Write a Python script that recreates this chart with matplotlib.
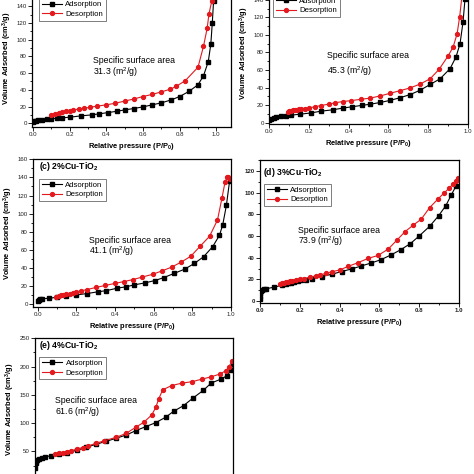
import matplotlib
matplotlib.use("Agg")
import matplotlib.pyplot as plt
from matplotlib.ticker import MultipleLocator, AutoMinorLocator

plt.rcParams['font.family'] = ['Liberation Sans', 'DejaVu Sans']
plt.rcParams['mathtext.fontset'] = 'custom'
plt.rcParams['mathtext.rm'] = 'Liberation Sans'
plt.rcParams['mathtext.it'] = 'Liberation Sans:italic'
plt.rcParams['mathtext.bf'] = 'Liberation Sans:bold'

# (a) TiO2
a_ads_x = [0.002, 0.008, 0.015, 0.03, 0.05, 0.075, 0.1, 0.13, 0.16, 0.2, 0.26, 0.32, 0.36, 0.41, 0.46, 0.5,
           0.55, 0.6, 0.65, 0.7, 0.755, 0.8, 0.85, 0.9, 0.93, 0.956, 0.97, 0.978, 0.985, 0.99]
a_ads_y = [2, 2.5, 3, 3.5, 4, 4.8, 5.3, 6, 6.5, 7.2, 8.8, 10, 11.2, 12.8, 14.4, 16,
           17.6, 19.6, 22, 24.4, 28, 32, 38, 46, 56.8, 73.6, 94.8, 120, 146, 170]
a_des_x = [0.1, 0.12, 0.14, 0.16, 0.18, 0.2, 0.22, 0.25, 0.28, 0.31, 0.35, 0.4, 0.45, 0.5, 0.55, 0.6,
           0.65, 0.7, 0.75, 0.78, 0.83, 0.9, 0.93, 0.95, 0.96, 0.975, 0.985]
a_des_y = [10, 11.5, 12.5, 13.5, 14.5, 15, 16, 17, 18, 19, 20.5, 22, 24, 26.5, 29, 32,
           34.5, 37.5, 40.8, 44, 50.8, 67, 92, 113.6, 131, 146, 160]

# (b) 1%Cu-TiO2
b_ads_x = [0.002, 0.01, 0.023, 0.036, 0.06, 0.086, 0.11, 0.156, 0.21, 0.26, 0.32, 0.37, 0.415, 0.465,
           0.51, 0.56, 0.61, 0.66, 0.71, 0.76, 0.81, 0.86, 0.91, 0.94, 0.96, 0.975, 0.985, 0.995]
b_ads_y = [3, 3.8, 5, 6, 7, 7.3, 8.5, 9.6, 11, 13, 14.6, 16.5, 18, 19.6,
           21, 23, 25.4, 28.5, 32, 37, 43.5, 50, 61.5, 75, 90, 114.6, 141, 170]
b_des_x = [0.095, 0.1, 0.11, 0.12, 0.13, 0.14, 0.15, 0.16, 0.18, 0.2, 0.23, 0.26, 0.3, 0.33, 0.37,
           0.41, 0.46, 0.51, 0.56, 0.61, 0.66, 0.71, 0.76, 0.81, 0.855, 0.9, 0.925, 0.945, 0.958, 0.97]
b_des_y = [12.5, 13, 13.5, 14, 14.3, 14.7, 15, 15.4, 16, 16.8, 18, 19.5, 21, 22.5, 24,
           25, 26.5, 28, 30.5, 33.5, 36.5, 39.6, 44, 50, 60.8, 76, 86, 101, 120.4, 145]

# (c) 2%Cu-TiO2
c_ads_x = [0.0, 0.005, 0.01, 0.02, 0.057, 0.1, 0.147, 0.2, 0.255, 0.31, 0.355, 0.41, 0.455, 0.5,
           0.555, 0.607, 0.653, 0.705, 0.76, 0.81, 0.858, 0.905, 0.94, 0.957, 0.976, 0.993]
c_ads_y = [3.7, 4.8, 5.5, 6, 6.6, 7.7, 8.9, 10.3, 11.8, 13.7, 15, 17.7, 19.2, 21.4,
           23.6, 26.2, 29.5, 34, 38.7, 45, 52.4, 63.5, 76, 87.5, 109, 136.5]
c_des_x = [0.095, 0.11, 0.12, 0.13, 0.147, 0.165, 0.18, 0.2, 0.225, 0.255, 0.3, 0.35, 0.4, 0.445,
           0.494, 0.54, 0.594, 0.645, 0.693, 0.742, 0.792, 0.84, 0.889, 0.93, 0.953, 0.969, 0.98, 0.987, 0.996]
c_des_y = [8, 9, 9.7, 10.3, 11, 11.8, 12.5, 13.6, 14.8, 16.2, 18.5, 20.8, 23, 25,
           27.3, 30, 33, 37, 41, 46.5, 53, 64, 75, 93, 117, 134.7, 140, 140, 138]

# (d) 3%Cu-TiO2
d_ads_x = [0.0, 0.001, 0.002, 0.005, 0.01, 0.02, 0.03, 0.07, 0.11, 0.13, 0.14, 0.155, 0.173, 0.19,
           0.207, 0.23, 0.26, 0.31, 0.36, 0.41, 0.46, 0.51, 0.557, 0.606, 0.657, 0.707, 0.756, 0.8,
           0.853, 0.897, 0.934, 0.96, 0.985]
d_ads_y = [2, 4.6, 7.6, 9, 10, 10.7, 11.3, 12.8, 14.5, 15.5, 16.2, 16.8, 17.7, 18.3,
           19, 19.8, 20.8, 22.6, 24.7, 27.2, 29.6, 32.4, 35, 38, 42.4, 47.3, 53, 60,
           69, 78.5, 88, 97.4, 106]
d_des_x = [0.1, 0.11, 0.12, 0.13, 0.14, 0.15, 0.16, 0.18, 0.2, 0.22, 0.25, 0.28, 0.3, 0.33, 0.36,
           0.4, 0.443, 0.493, 0.544, 0.593, 0.645, 0.687, 0.729, 0.77, 0.81, 0.852, 0.894, 0.927,
           0.951, 0.97, 0.985, 0.993, 1.0]
d_des_y = [15.5, 16.5, 17, 17.5, 18, 18.3, 18.6, 19.3, 20, 20.7, 22, 23.2, 24, 25.5, 27,
           28.6, 32, 35.4, 39.4, 42, 48, 56, 64, 70, 75.4, 86, 94, 100,
           104, 108, 111, 113, 113]

# (e) 4%Cu-TiO2
e_ads_x = [0.0, 0.003, 0.007, 0.012, 0.02, 0.035, 0.05, 0.08, 0.12, 0.16, 0.21, 0.26, 0.31, 0.36,
           0.41, 0.46, 0.51, 0.56, 0.61, 0.66, 0.7, 0.75, 0.8, 0.85, 0.89, 0.94, 0.97, 0.99, 1.0]
e_ads_y = [20, 30, 33, 35, 37, 39, 40.5, 42.5, 45, 48, 52, 57.5, 63, 68,
           73.5, 79, 87, 94, 101, 110.6, 121, 131, 145, 158, 171, 178, 184, 194, 204]
e_des_x = [0.1, 0.12, 0.14, 0.16, 0.18, 0.21, 0.24, 0.27, 0.31, 0.35, 0.41, 0.46, 0.51, 0.55,
           0.59, 0.61, 0.625, 0.645, 0.69, 0.74, 0.795, 0.845, 0.89, 0.935, 0.965, 0.98, 0.995]
e_des_y = [45, 46.5, 48, 49.5, 51, 54, 57, 60, 64.7, 69, 75, 82, 93, 101.8,
           114.7, 128, 143, 159, 166.5, 170.6, 173.5, 178, 182, 187, 193, 200, 210]

areas = ['31.3', '45.3', '41.1', '73.9', '61.6']
titles = [None, None, '(c) 2%Cu-TiO$_\\mathbf{2}$', '(d) 3%Cu-TiO$_\\mathbf{2}$', '(e) 4%Cu-TiO$_\\mathbf{2}$']

W = 474.0
RED = '#e3191e'

fig = plt.figure(figsize=(4.74, 4.74), dpi=100)


def px_box(l, r, t, b):
    return [l / W, 1 - b / W, (r - l) / W, (b - t) / W]


def panel(box, ads_x, ads_y, des_x, des_y, xlim, ylim, ystep, area, txt_pos, txt_gap,
          leg_pos, title=None, title_pos=None, ylabel=True, bold_ticks=False):
    ax = fig.add_axes(px_box(*box))
    ax.plot(ads_x, ads_y, '-s', color='black', lw=0.8, ms=2.6, label='Adsorption')
    ax.plot(des_x, des_y, '-o', color=RED, mfc=RED, mec=RED, lw=0.8, ms=2.8, label='Desorption')
    ax.set_xlim(*xlim)
    ax.set_ylim(*ylim)
    ax.xaxis.set_major_locator(MultipleLocator(0.2))
    ax.xaxis.set_minor_locator(MultipleLocator(0.1))
    ax.yaxis.set_major_locator(MultipleLocator(ystep))
    ax.yaxis.set_minor_locator(AutoMinorLocator(2))
    ax.tick_params(which='both', direction='out', width=0.7, labelsize=4.4, pad=1.2,
                   colors='#222222')
    ax.tick_params(which='major', length=2.6)
    ax.tick_params(which='minor', length=1.4)
    if bold_ticks:
        for lab in ax.get_xticklabels() + ax.get_yticklabels():
            lab.set_fontweight('bold')
    for s in ax.spines.values():
        s.set_linewidth(0.9)
    ax.set_xlabel('Relative pressure (P/P$_\\mathbf{0}$)', fontsize=5.4, fontweight='bold', labelpad=3)
    if ylabel:
        ax.set_ylabel('Volume Adsorbed (cm$^\\mathbf{3}$/g)', fontsize=5.4, fontweight='bold', labelpad=2)
    tx, ty = txt_pos
    fig.text(tx / W, 1 - ty / W, 'Specific surface area', fontsize=6.3, va='center', ha='left')
    fig.text(tx / W, 1 - (ty + txt_gap) / W, area + ' (m$^2$/g)', fontsize=6.3, va='center', ha='left')
    if title:
        fig.text(title_pos[0] / W, 1 - title_pos[1] / W, title, fontsize=6.2, fontweight='bold',
                 va='center', ha='left')
    leg = ax.legend(loc='lower left', bbox_to_anchor=(leg_pos[0] / W, 1 - leg_pos[1] / W),
                    bbox_transform=fig.transFigure, fontsize=5.6, frameon=True, fancybox=False,
                    edgecolor='#444444', borderpad=0.35, labelspacing=0.25, handlelength=2.6,
                    handletextpad=0.45, borderaxespad=0)
    leg.get_frame().set_linewidth(0.6)
    return ax


panel((32, 231, -10.5, 126.6), a_ads_x, a_ads_y, a_des_x, a_des_y, (-0.005, 1.08), (-4, 160), 20,
      areas[0], (92.7, 60.7), 11, (39, 20.5))
panel((269, 468, -17.8, 123.5), b_ads_x, b_ads_y, b_des_x, b_des_y, (0, 1.0), (-1, 160), 20,
      areas[1], (327.3, 56), 14.7, (273, 17))
panel((33, 231, 159.3, 306.5), c_ads_x, c_ads_y, c_des_x, c_des_y, (-0.025, 1.0), (-2.5, 160), 20,
      areas[2], (89, 240), 11, (39, 201), titles[2], (39.3, 166.7))
panel((260, 459, 160, 302.7), d_ads_x, d_ads_y, d_des_x, d_des_y, (0, 1.0), (-1.5, 130), 20,
      areas[3], (298.3, 230), 11, (264, 206), titles[3], (263.3, 172.7), ylabel=False, bold_ticks=True)
panel((35, 233, 338.3, 479.8), e_ads_x, e_ads_y, e_des_x, e_des_y, (0, 1.0), (0, 250), 50,
      areas[4], (55, 400.7), 11, (39.3, 379.3), titles[4], (39.3, 345))

fig.savefig('out.png', dpi=100)
